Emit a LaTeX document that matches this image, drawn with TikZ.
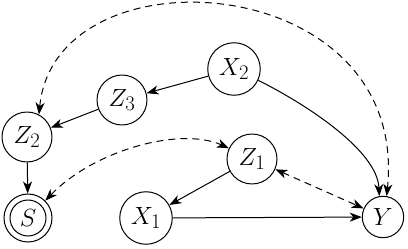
\documentclass[tikz,border=0pt]{standalone}
\usetikzlibrary{arrows.meta}
\begin{document}
\begin{tikzpicture}[x=1pt,y=-1pt,
  var/.style={circle,draw,line width=1pt,inner sep=5.5pt,font=\Huge},
  arr/.style={line width=1pt,-{Stealth[length=12pt,width=9pt,inset=3.5pt]}},
  biarr/.style={line width=1pt,dash pattern=on 7pt off 5pt,{Stealth[length=12pt,width=9pt,inset=3.5pt]}-{Stealth[length=12pt,width=9pt,inset=3.5pt]}}]
\useasboundingbox (0,0) rectangle (408,249);
\node[var] (X2) at (234,69) {$X_2$};
\node[var] (Z3) at (122,100) {$Z_3$};
\node[var] (Z2) at (27,137) {$Z_2$};
\node[circle,draw,line width=1pt,minimum size=48pt,inner sep=0pt] (S) at (28,218) {};
\node[circle,draw,line width=1pt,minimum size=36pt,inner sep=0pt,font=\Huge] (Sin) at (S.center) {$S$};
\node[var] (X1) at (146,218) {$X_1$};
\node[var] (Z1) at (252,159) {$Z_1$};
\node[var] (Y)  at (383,217) {$Y$};
\draw[arr] (X2) -- (Z3);
\draw[arr] (Z3) -- (Z2);
\draw[arr] (Z2) -- (S);
\draw[arr] (Z1) -- (X1);
\draw[arr] (X1) -- (Y);
\draw[arr] (X2.-25) .. controls +(50,25) and +(-2,-45) .. (Y.100);
\draw[biarr] (Z2.62) .. controls +(16,-168) and +(23,-228) .. (Y.80);
\draw[biarr] (S.45) .. controls +(48,-50) and +(-49,-22) .. (Z1.155);
\draw[biarr] (Z1) -- (Y);
\end{tikzpicture}
\end{document}
